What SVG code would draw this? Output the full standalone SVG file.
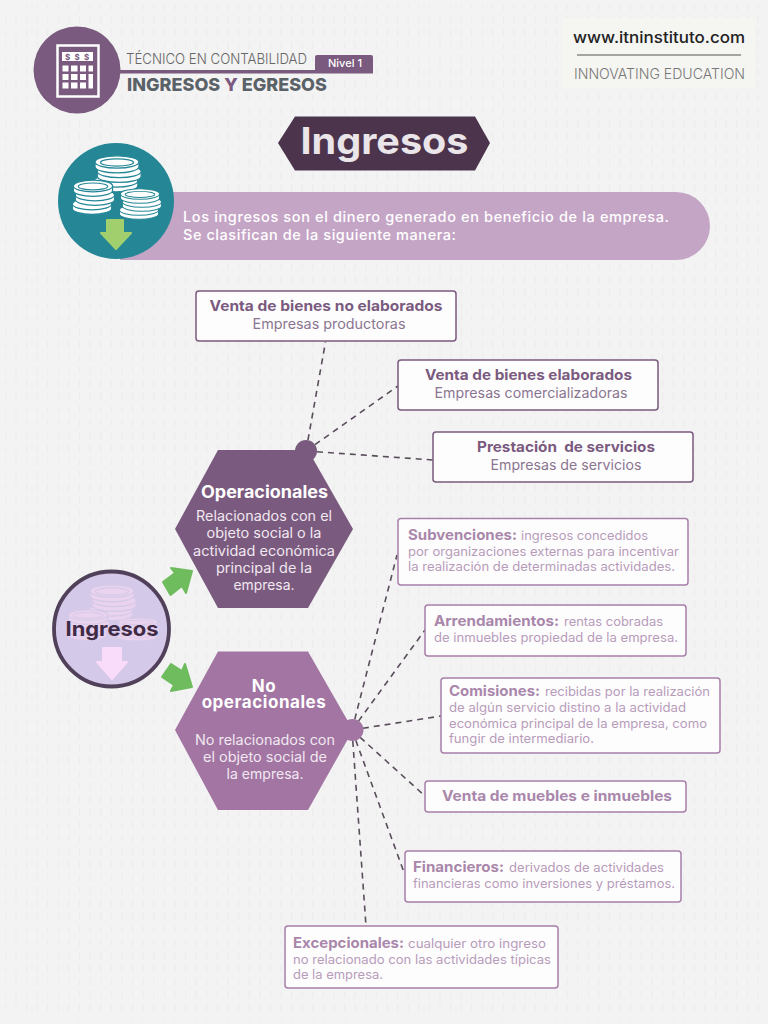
<svg xmlns="http://www.w3.org/2000/svg" xmlns:xlink="http://www.w3.org/1999/xlink" width="768" height="1024" viewBox="0 0 768 1024">
<style>
text{font-family:Inter,"Liberation Sans",sans-serif}
.box1{fill:#fefdfe;stroke:#7a5a7e;stroke-width:1.5}
.box2{fill:#fefdfe;stroke:#a87fa9;stroke-width:1.5}
.t1{font-size:14.5px;font-weight:700;fill:#7a5a7e;text-anchor:middle}
.s1{font-size:14px;font-weight:400;fill:#8a7590;text-anchor:middle}
.b2{font-size:14.5px;font-weight:700;fill:#a987ab}
.r2{font-size:12.5px;font-weight:400;fill:#b79cba}
.h{font-size:17px;font-weight:700;fill:#fff;text-anchor:middle}
.hs{font-size:14px;font-weight:400;fill:#f1e8f1;text-anchor:middle}
.con{fill:none;stroke:#5a4d5c;stroke-width:1.6;stroke-dasharray:6 5}
.green{fill:#6fbc5e;stroke:#6fbc5e;stroke-width:2;stroke-linejoin:round}
</style>
<defs>
<pattern id="dots" width="10.6" height="13" patternUnits="userSpaceOnUse">
<rect x="5" y="3" width="1" height="7" fill="#ebebeb"/>
</pattern>
<g id="disc"><path d="M-20 0v5a20 6.500 0 0 0 40 0v-5z"/><ellipse cx="0" cy="0" rx="20" ry="6.500"/></g>
<g id="stack">
<use xlink:href="#disc" href="#disc" x="-1" y="20"/>
<use xlink:href="#disc" href="#disc" x="2" y="10"/>
<use xlink:href="#disc" href="#disc" y="0"/>
<ellipse cx="0" cy="0.500" rx="15" ry="3.800" fill="none"/>
</g>
</defs>
<rect width="768" height="1024" fill="#f3f3f3"/>
<rect x="5" y="5" width="758" height="1014" fill="url(#dots)"/>

<g id="header">
<rect x="120" y="70" width="253" height="3.5" fill="#7a5a7e"/>
<circle cx="77" cy="70" r="43.5" fill="#7a5a7e"/>
<rect x="57.500" y="45.500" width="41" height="51" fill="#7a5a7e" stroke="#fff" stroke-width="2.500"/>
<rect x="62" y="52" width="31" height="9" fill="#fff"/>
<text x="65" y="60" font-size="8" font-weight="700" fill="#7a5a7e">$</text>
<text x="74.500" y="60" font-size="8" font-weight="700" fill="#7a5a7e">$</text>
<text x="84" y="60" font-size="8" font-weight="700" fill="#7a5a7e">$</text>
<path fill="#fff" d="M62.500 65.500h6v6h-6zM71 65.500h6.500v6h-6.500zM80 65.500h6v6h-6zM88.500 65.500h4.500v6h-4.500zM62.500 74h6v6h-6zM71 74h6.500v6h-6.500zM80 74h6v6h-6zM62.500 82.500h6v6h-6zM71 82.500h6.500v6h-6.500zM80 82.500h6v6h-6zM88.500 74h4.500v14.500h-4.500z"/>
<text x="126" y="64" font-size="14.500" font-weight="300" fill="#666" textLength="181" lengthAdjust="spacingAndGlyphs">TÉCNICO EN CONTABILIDAD</text>
<rect x="315" y="55" width="58" height="18" rx="2" fill="#7a5a7e"/>
<text x="345" y="67" font-size="11" font-weight="500" fill="#fff" text-anchor="middle">Nivel 1</text>
<text x="127" y="91" font-size="18" font-weight="800" fill="#5a6268" textLength="200" lengthAdjust="spacingAndGlyphs">INGRESOS <tspan fill="#7a5a7e">Y</tspan> EGRESOS</text>
</g>

<g id="logo">
<rect x="562" y="18" width="193" height="70" fill="#f5f5f2"/>
<text x="573" y="43" font-size="15.500" font-weight="500" fill="#222" textLength="172" lengthAdjust="spacingAndGlyphs">www.itninstituto.com</text>
<rect x="577" y="54.500" width="164" height="1" fill="#555"/>
<text x="574" y="79" font-size="14" font-weight="300" fill="#777" textLength="171" lengthAdjust="spacingAndGlyphs">INNOVATING EDUCATION</text>
</g>

<g id="title">
<polygon points="278,143 295,116.500 475,116.500 490,143 475,170.500 295,170.500" fill="#4c344c"/>
<text x="384.500" y="154" font-size="37" font-weight="700" fill="#e9e5e9" text-anchor="middle" textLength="168" lengthAdjust="spacingAndGlyphs">Ingresos</text>
</g>

<g id="intro">
<path d="M120 192H676a34 34 0 0 1 0 68H120z" fill="#c5a5c6"/>
<circle cx="116" cy="201" r="58" fill="#258796"/>
<g fill="#fff" stroke="#258796" stroke-width="1.200">
<use xlink:href="#stack" href="#stack" transform="translate(117,162) scale(1.100,.95)"/>
<use xlink:href="#stack" href="#stack" transform="translate(93,186) scale(.98,.9)"/>
<use xlink:href="#stack" href="#stack" transform="translate(140,194) scale(.98,.8)"/>
</g>
<polygon points="107,220 123,220 123,233 131,233 116,249 101,233 107,233" fill="#a2cf6e" stroke="#a2cf6e" stroke-width="2" stroke-linejoin="round"/>
<text x="183" y="222" font-size="14.500" font-weight="500" fill="#fff" textLength="486" lengthAdjust="spacing">Los ingresos son el dinero generado en beneficio de la empresa.</text>
<text x="183" y="240" font-size="14.500" font-weight="500" fill="#fff" textLength="273" lengthAdjust="spacing">Se clasifican de la siguiente manera:</text>
</g>

<g id="connectors">
<line class="con" x1="306" y1="451" x2="325.500" y2="342"/>
<line class="con" x1="306" y1="451" x2="398" y2="386"/>
<line class="con" x1="306" y1="451" x2="433" y2="460"/>
<line class="con" x1="352" y1="730" x2="397" y2="555"/>
<line class="con" x1="352" y1="730" x2="425" y2="630"/>
<line class="con" x1="352" y1="730" x2="441" y2="716"/>
<line class="con" x1="352" y1="730" x2="425" y2="796"/>
<line class="con" x1="352" y1="730" x2="405" y2="875"/>
<line class="con" x1="352" y1="730" x2="366" y2="926"/>
</g>

<g id="root">
<circle cx="111.500" cy="629" r="57.500" fill="#d5c9e9" stroke="#50405a" stroke-width="3.800"/>
<g fill="#e9d3ee" stroke="#d5c9e9" stroke-width="1.200">
<use xlink:href="#stack" href="#stack" transform="translate(112,591) scale(1.100,.95)"/>
<use xlink:href="#stack" href="#stack" transform="translate(88,615) scale(.98,.8)"/>
<use xlink:href="#stack" href="#stack" transform="translate(138,622) scale(.98,.6)"/>
</g>
<polygon points="103,648 121,648 121,662 127,662 112,679 97,662 103,662" fill="#f8dcfa" stroke="#f8dcfa" stroke-width="2" stroke-linejoin="round"/>
<text x="112" y="636" font-size="20" font-weight="700" fill="#3f2a45" text-anchor="middle" textLength="93" lengthAdjust="spacingAndGlyphs">Ingresos</text>
</g>

<g id="arrows">
<polygon class="green" points="171,568 192,571 186,593 182,586 170.500,595 163,582 175,573"/>
<polygon class="green" points="171,664 162,677 174,685 171,691 192,687 185,664 182,671"/>
</g>

<g id="operacionales">
<polygon points="175,529 218,450 308,450 353,529 308,608 218,608" fill="#7a5a7e"/>
<circle cx="306" cy="451" r="11" fill="#7a5a7e"/>
<text class="h" x="264.500" y="498" textLength="127" lengthAdjust="spacingAndGlyphs">Operacionales</text>
<text class="hs" x="264" y="521" textLength="136" lengthAdjust="spacingAndGlyphs">Relacionados con el</text>
<text class="hs" x="264" y="538" textLength="115" lengthAdjust="spacingAndGlyphs">objeto social o la</text>
<text class="hs" x="264" y="556" textLength="142" lengthAdjust="spacingAndGlyphs">actividad económica</text>
<text class="hs" x="264" y="573" textLength="96" lengthAdjust="spacingAndGlyphs">principal de la</text>
<text class="hs" x="264" y="590" textLength="61" lengthAdjust="spacingAndGlyphs">empresa.</text>
</g>

<g id="no-operacionales">
<polygon points="175,730 218,651.500 308,651.500 353,730 308,810 218,810" fill="#a275a3"/>
<circle cx="352.500" cy="730" r="11" fill="#a275a3"/>
<text class="h" letter-spacing=".55"><tspan x="264" y="692">No</tspan><tspan x="264" y="708">operacionales</tspan></text>
<text class="hs" x="265" y="745" textLength="140" lengthAdjust="spacingAndGlyphs">No relacionados con</text>
<text class="hs" x="265" y="762" textLength="124" lengthAdjust="spacingAndGlyphs">el objeto social de</text>
<text class="hs" x="265" y="779" textLength="77" lengthAdjust="spacingAndGlyphs">la empresa.</text>
</g>

<g id="n1"><rect class="box1" x="196" y="291" width="260" height="50" rx="3"/>
<text class="t1" x="326" y="311" textLength="233" lengthAdjust="spacingAndGlyphs">Venta de bienes no elaborados</text>
<text class="s1" x="329" y="329" textLength="153" lengthAdjust="spacingAndGlyphs">Empresas productoras</text></g>
<g id="n2"><rect class="box1" x="398" y="360" width="260" height="50" rx="3"/>
<text class="t1" x="528.500" y="380" textLength="207" lengthAdjust="spacingAndGlyphs">Venta de bienes elaborados</text>
<text class="s1" x="531" y="398" textLength="193" lengthAdjust="spacingAndGlyphs">Empresas comercializadoras</text></g>
<g id="n3"><rect class="box1" x="433" y="432" width="260" height="50" rx="3"/>
<text class="t1" x="566" y="452" textLength="178" lengthAdjust="spacingAndGlyphs" xml:space="preserve">Prestación  de servicios</text>
<text class="s1" x="566" y="470" textLength="151" lengthAdjust="spacingAndGlyphs">Empresas de servicios</text></g>

<g id="n4"><rect class="box2" x="398" y="518.500" width="290" height="66.500" rx="3"/>
<text class="b2" x="408" y="540" textLength="109" lengthAdjust="spacingAndGlyphs">Subvenciones:</text>
<text class="r2" x="521" y="540" textLength="127" lengthAdjust="spacingAndGlyphs">ingresos concedidos</text>
<text class="r2" x="408" y="555.500" textLength="271" lengthAdjust="spacingAndGlyphs">por organizaciones externas para incentivar</text>
<text class="r2" x="408" y="571" textLength="267" lengthAdjust="spacingAndGlyphs">la realización de determinadas actividades.</text></g>
<g id="n5"><rect class="box2" x="425" y="605" width="261" height="51" rx="3"/>
<text class="b2" x="434" y="626" textLength="125" lengthAdjust="spacingAndGlyphs">Arrendamientos:</text>
<text class="r2" x="564" y="626" textLength="99" lengthAdjust="spacingAndGlyphs">rentas cobradas</text>
<text class="r2" x="434" y="642" textLength="244" lengthAdjust="spacingAndGlyphs">de inmuebles propiedad de la empresa.</text></g>
<g id="n6"><rect class="box2" x="441" y="678" width="279" height="75" rx="3"/>
<text class="b2" x="449" y="696" textLength="91" lengthAdjust="spacingAndGlyphs">Comisiones:</text>
<text class="r2" x="545" y="696" textLength="165" lengthAdjust="spacingAndGlyphs">recibidas por la realización</text>
<text class="r2" x="449" y="712" textLength="237" lengthAdjust="spacingAndGlyphs">de algún servicio distino a la actividad</text>
<text class="r2" x="449" y="727.500" textLength="258" lengthAdjust="spacingAndGlyphs">económica principal de la empresa, como</text>
<text class="r2" x="449" y="743" textLength="145" lengthAdjust="spacingAndGlyphs">fungir de intermediario.</text></g>
<g id="n7"><rect class="box2" x="425" y="781" width="261" height="31" rx="3"/>
<text class="b2" x="442" y="801" textLength="230" lengthAdjust="spacingAndGlyphs">Venta de muebles e inmuebles</text></g>
<g id="n8"><rect class="box2" x="405" y="851" width="276" height="51" rx="3"/>
<text class="b2" x="413" y="872" textLength="91" lengthAdjust="spacingAndGlyphs">Financieros:</text>
<text class="r2" x="509" y="872" textLength="155" lengthAdjust="spacingAndGlyphs">derivados de actividades</text>
<text class="r2" x="413" y="888" textLength="262" lengthAdjust="spacingAndGlyphs">financieras como inversiones y préstamos.</text></g>
<g id="n9"><rect class="box2" x="285" y="926" width="273" height="62" rx="3"/>
<text class="b2" x="293" y="948" textLength="111" lengthAdjust="spacingAndGlyphs">Excepcionales:</text>
<text class="r2" x="408" y="948" textLength="138" lengthAdjust="spacingAndGlyphs">cualquier otro ingreso</text>
<text class="r2" x="293" y="964" textLength="258" lengthAdjust="spacingAndGlyphs">no relacionado con las actividades típicas</text>
<text class="r2" x="293" y="979" textLength="90" lengthAdjust="spacingAndGlyphs">de la empresa.</text></g>
</svg>
